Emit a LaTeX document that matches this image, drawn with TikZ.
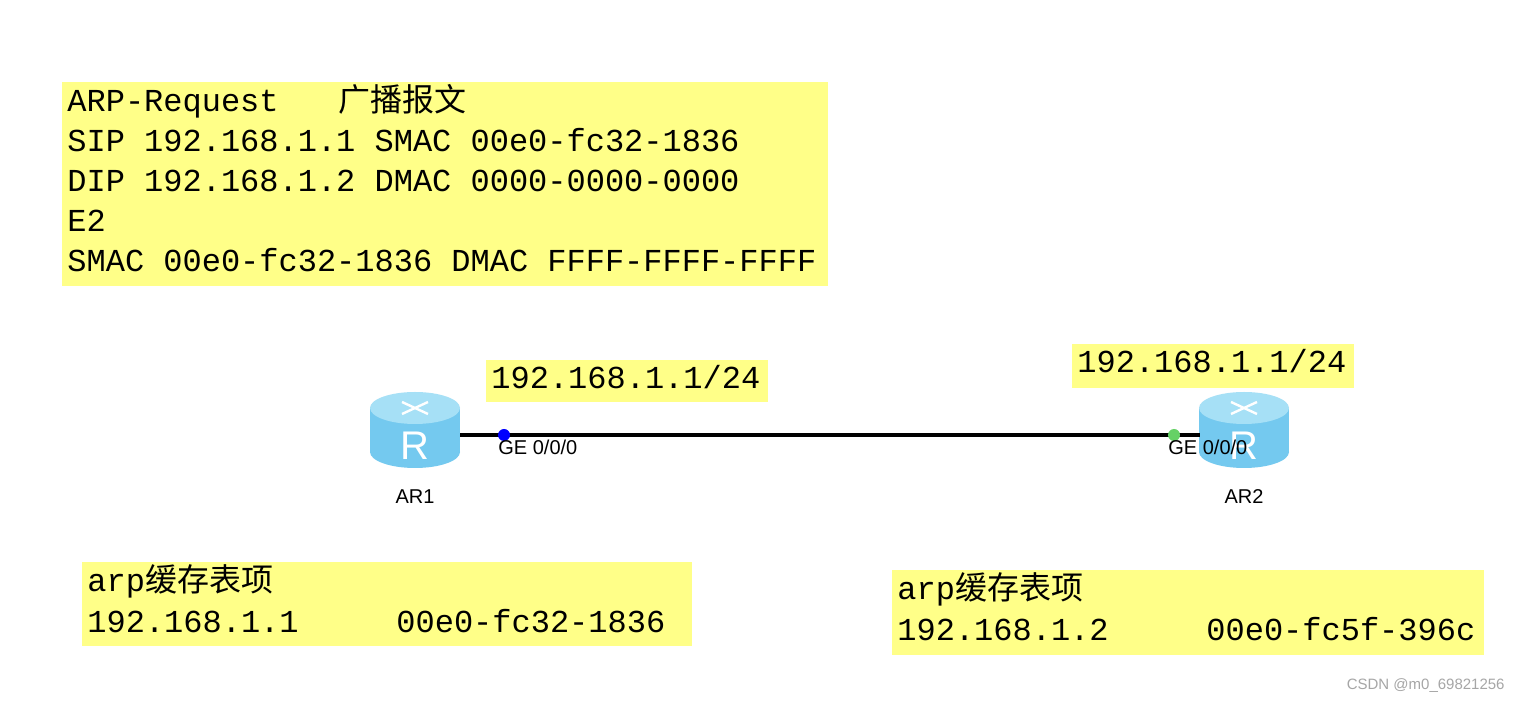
\documentclass[tikz,border=0pt]{standalone}
\usepackage{fontspec}
\setmonofont{Liberation Mono}
\setsansfont{Liberation Sans}
\newfontfamily\cjk{Noto Sans CJK SC}
\usetikzlibrary{shapes.geometric}
\definecolor{note}{HTML}{FFFF88}
\definecolor{rtop}{HTML}{A6E0F6}
\definecolor{rbody}{HTML}{74C9EF}
\begin{document}
\begin{tikzpicture}[x=0.5pt,y=-0.5pt,
  notebox/.style={fill=note,draw=none},
  mono/.style={anchor=base west,inner sep=0,font=\ttfamily\fontsize{16}{20}\selectfont},
  cn/.style={anchor=base west,inner sep=0,font=\cjk\fontsize{16}{20}\selectfont},
  lbl/.style={inner sep=0,font=\sffamily\fontsize{10}{11}\selectfont}]
\useasboundingbox[fill=white] (0,0) rectangle (1520,704);
% note boxes
\fill[note] (62,82) rectangle (828,286);
\fill[note] (486,360) rectangle (768,402);
\fill[note] (1072,344) rectangle (1354,388);
\fill[note] (82,562) rectangle (692,646);
\fill[note] (892,570) rectangle (1484,655);
% top text
\node[mono] (t1) at (67,112) {ARP-Request};
\node[cn] (t1c) at (338,112) {广播报文};
\node[mono] (t2) at (67,152) {SIP 192.168.1.1 SMAC 00e0-fc32-1836};
\node[mono] (t3) at (67,192) {DIP 192.168.1.2 DMAC 0000-0000-0000};
\node[mono] (t4) at (67,232) {E2};
\node[mono] (t5) at (67,272) {SMAC 00e0-fc32-1836 DMAC FFFF-FFFF-FFFF};
\node[mono] (ip1) at (491,389) {192.168.1.1/24};
\node[mono] (ip2) at (1077,373) {192.168.1.1/24};
% arp tables
\node[mono] (a1) at (87,592) {arp};
\node[cn] (a1c) at (145,592) {缓存表项};
\node[mono] (a2) at (87,633) {192.168.1.1};
\node[mono] (a3) at (396,633) {00e0-fc32-1836};
\node[mono] (b1) at (897,600) {arp};
\node[cn] (b1c) at (955,600) {缓存表项};
\node[mono] (b2) at (897,641) {192.168.1.2};
\node[mono] (b3) at (1206,641) {00e0-fc5f-396c};
% routers
\foreach \n/\cx in {R1/415,R2/1244}{
  \begin{scope}[shift={(\cx,430)}]
    \fill[rbody] (0,22) ellipse[x radius=45,y radius=16];
    \fill[rbody] (-45,-22) rectangle (45,22);
    \fill[rtop] (0,-22) ellipse[x radius=45,y radius=16];
    \node[inner sep=0,text=white,font=\sffamily\fontsize{20}{22}\selectfont] at (0,16) {R};
    \draw[white,line width=1.2pt] (-13,-28) -- (13,-16) (-13,-16) -- (13,-28);
  \end{scope}
  \coordinate (\n) at (\cx,430);
}
\coordinate (R1e) at (460,435);
\coordinate (R2e) at (1200,435);
\draw[line width=1.6pt] (R1e) -- (R2e);
\fill[blue] (504,435) circle (6);
\fill[green!70!black!60] (1174,435) circle (6);
\node[lbl,anchor=west] (g1) at (498,447) {GE 0/0/0};
\node[lbl,anchor=west] (g2) at (1168,447) {GE 0/0/0};
\node[lbl] (n1) at (415,497) {AR1};
\node[lbl] (n2) at (1244,497) {AR2};
\node[inner sep=0,anchor=east,text=gray!70,font=\sffamily\fontsize{7.5}{9}\selectfont] (wm) at (1505,686) {CSDN @m0\_69821256};
\end{tikzpicture}
\end{document}
